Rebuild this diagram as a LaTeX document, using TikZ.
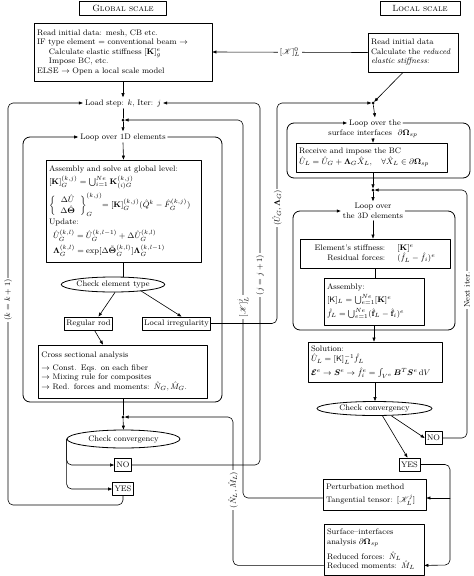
\documentclass[tikz,border=0pt]{standalone}
\usepackage{amsmath}
\usepackage{amssymb}
\usepackage{mathrsfs}
\usepackage{tikz}
\usetikzlibrary{arrows.meta, calc, positioning, shapes}

\tikzset{
  gbox/.style={draw, line width=0.8pt, font=\footnotesize, inner sep=3pt, align=left},
  tagbox/.style={draw, line width=0.8pt, font=\footnotesize, inner sep=2pt, minimum height=13pt},
  titlebox/.style={draw, line width=0.8pt, font=\small, minimum height=14pt, inner xsep=6pt},
  txt/.style={font=\footnotesize, inner sep=2pt, align=center},
  chk/.style={ellipse, draw, line width=0.8pt, font=\footnotesize, inner sep=0pt},
  jdot/.style={circle, fill, inner sep=0pt, minimum size=3pt},
  arr/.style={->, line width=0.6pt},
  wire/.style={-, line width=0.6pt},
  looparr/.style={->, line width=0.8pt, rounded corners=7pt},
  vlbl/.style={fill=white, font=\footnotesize, inner sep=1.5pt, rotate=90},
}

\begin{document}
\begin{tikzpicture}[x=1pt, y=-1pt, line cap=round, line join=round, >={Triangle[length=4pt,width=3pt]}]
    \useasboundingbox (0,0) rectangle (474,576);

    % titles
    \node[titlebox, minimum width=87pt] (gtitle) at (123,8) {\textsc{Global scale}};
    \node[titlebox, minimum width=80pt] (ltitle) at (420,8) {\textsc{Local scale}};

    % global scale
    \node[gbox, text width=172pt, minimum height=58pt] (ginit) at (123,52) {Read initial data: mesh, CB etc.\\
      IF type element = conventional beam $\rightarrow$\\
      \hspace*{12pt}Calculate elastic stiffness $[\mathbf{K}]^e_g$\\
      \hspace*{12pt}Impose BC, etc.\\
      ELSE $\rightarrow$ Open a local scale model};
    \node[txt] (load) at (123,103) {Load step: $k$, Iter: $j$};
    \node[jdot] (dot1) at (123,120) {};
    \node[txt] (loop1) at (123,137) {Loop over 1D elements};
    \node[gbox, text width=149pt, minimum height=102pt] (gasm) at (123.5,211) {Assembly and solve at global level:\\[2pt]
      $[\mathbf{K}]_G^{(k,j)}=\bigcup_{i=1}^{Ne}\mathbf{K}_{(i)G}^{(k,j)}$\\[3pt]
      $\left\{\begin{array}{c}\Delta\hat{U}\\ \Delta\hat{\mathbf{\Theta}}\end{array}\right\}_G^{(k,j)}\!\!=[\mathbf{K}]_G^{(k,j)}(\hat{Q}^k-\hat{F}_G^{(k,j)})$\\[1pt]
      Update:\\[3pt]
      \hspace*{4pt}$\hat{U}_G^{(k,l)}=\hat{U}_G^{(k,l-1)}+\Delta\hat{U}_G^{(k,l)}$\\[3pt]
      \hspace*{4pt}$\mathbf{\Lambda}_G^{(k,l)}=\exp[\Delta\tilde{\mathbf{\Theta}}_G^{(k,l)}]\mathbf{\Lambda}_G^{(k,l-1)}$};
    \node[chk, minimum width=100pt, minimum height=15pt] (gtype) at (113,284.5) {Check element type};
    \node[tagbox] (rod) at (88.5,323.5) {Regular rod};
    \node[tagbox] (irr) at (176.5,323.5) {Local irregularity};
    \node[gbox, text width=163pt, minimum height=53pt] (cross) at (123,371.5) {Cross sectional analysis\\[3pt]
      $\rightarrow$ Const. Eqs. on each fiber\\
      $\rightarrow$ Mixing rule for composites\\
      $\rightarrow$ Red. forces and moments: $\hat{N}_G,\hat{M}_G$.};
    \node[jdot] (dot3) at (123,417) {};
    \node[chk, minimum width=113pt, minimum height=18pt] (gconv) at (123.5,439) {Check convergency};
    \node[tagbox] (gno) at (123,465) {NO};
    \node[tagbox] (gyes) at (123,489) {YES};

    % local scale
    \node[gbox, text width=84pt, minimum height=39pt] (linit) at (413,52.5) {Read initial data\\
      Calculate the \textit{reduced}\\ \textit{elastic stiffness}:};
    \node[jdot] (dot2) at (373,103) {};
    \node[txt] (sloop) at (375,123) {Loop over the};
    \node[txt] (sname) at (373,133.5) {surface interfaces \ $\partial\mathbf{\Omega}_{sp}$};
    \node[gbox, text width=145pt, minimum height=29pt] (recv) at (371.5,157.5) {Receive and impose the BC\\[1pt]
      $\hat{U}_L=\hat{U}_G+\mathbf{\Lambda}_G\hat{X}_L,\quad\forall\hat{X}_L\in\partial\mathbf{\Omega}_{sp}$};
    \node[jdot] (dot4) at (373,190) {};
    \node[txt] (eloop) at (373,211) {Loop over\\ the 3D elements};
    \node[gbox, minimum width=150pt, minimum height=29pt, align=center] (estiff) at (375,253.5) {\begin{tabular}{@{}r@{\hspace{12pt}}l@{}}
      Element's stiffness: & $[\mathbf{K}]^e$\\ Residual forces: & $(\hat{f}_L-\hat{f}_i)^e$\end{tabular}};
    \node[gbox, text width=94pt, minimum height=47pt] (lasm) at (374,301.5) {Assembly:\\[3pt]
      $[\mathsf{K}]_L=\bigcup_{e=1}^{Ne}[\mathbf{K}]^e$\\[3pt]
      $\hat{f}_L=\bigcup_{e=1}^{Ne}(\hat{\mathbf{f}}_L-\hat{\mathbf{f}}_i)^e$};
    \node[gbox, text width=128pt, minimum height=40pt] (sol) at (375,362) {Solution:\\[1pt]
      $\hat{U}_L=[\mathsf{K}]_L^{-1}\hat{f}_L$\\[2pt]
      $\boldsymbol{\mathcal{E}}^e\rightarrow\boldsymbol{S}^e\rightarrow\hat{f}_i^e=\int_{V^e}\boldsymbol{B}^T\boldsymbol{S}^e\,\mathrm{d}V$};
    \node[chk, minimum width=115pt, minimum height=14pt] (lconv) at (374.5,408.5) {Check convergency};
    \node[tagbox] (lno) at (433.5,438) {NO};
    \node[tagbox] (lyes) at (409.5,464.5) {YES};
    \node[gbox, text width=97pt, minimum height=31pt] (pert) at (374.5,494.5) {Perturbation method\\[4pt]
      Tangential tensor: $[\mathscr{K}^j_L]$};
    \node[gbox, text width=94pt, minimum height=51pt] (surf) at (374,549.5) {Surface--interfaces\\
      analysis $\partial\mathbf{\Omega}_{sp}$\\[4pt]
      Reduced forces: $\hat{N}_L$\\ Reduced moments: $\hat{M}_L$};

    % loops
    \draw[looparr] (loop1.east) -- (222,137) -- (222,402) -- (23,402) -- (23,137) -- (loop1.west);
    \draw[looparr] (sloop.east) -- (470,123) -- (470,178) -- (287,178) -- (287,123) -- (sloop.west);
    \draw[looparr] (eloop.east) -- (455,211) -- (455,330) -- (293,330) -- (293,211) -- (eloop.west);

    % global flow
    \draw[arr] (ginit.south) -- (load.north);
    \draw[arr] (linit.west) -- (ginit.east) node[midway, fill=white, font=\footnotesize, inner sep=2pt] (kl0) {$[\mathscr{K}]^0_L$};
    \draw[wire] (load.south) -- (dot1);
    \draw[arr] (dot1) -- (loop1.north);
    \draw[arr] (loop1.south) -- (gasm.north);
    \draw[wire] (gasm.south) -- (gasm.south |- gtype.north);
    \draw[arr] ($(gtype.south)+(2,0)$) -- ($(rod.north)+(10,0)$);
    \draw[arr] ($(gtype.south)+(28,-1.5)$) -- ($(irr.north)+(5,0)$);
    \draw[arr] ($(rod.south)+(6,0)$) -- ($(cross.north)+(-20,0)$);
    \draw[wire] (cross.south) -- (dot3);
    \draw[arr] (dot3) -- (gconv.north);
    \draw[arr, rounded corners=5pt] (gconv.west) |- (gno.west);
    \draw[arr, rounded corners=5pt] (gconv.west) |- (gyes.west);

    % return lines
    \draw[arr, rounded corners=5pt] (gyes.south) |- (8,505) |- (load.west);
    \draw[arr, rounded corners=5pt] (gno.east) -| (260,103) -- (load.east);
    \draw[arr, rounded corners=5pt] ($(pert.west)+(0,3.5)$) -| (243,120) -- (dot1);
    \draw[arr, rounded corners=5pt] (irr.east) -| (277,103) -- (dot2);
    \draw[arr, rounded corners=5pt] ($(surf.south west)+(0,-10)$) -| (233,417) -- (dot3);

    % local flow
    \draw[arr] ($(linit.south)+(-10,0)$) -- (dot2);
    \draw[arr] (dot2) -- (sloop.north);
    \draw[arr] (sname.south) -- (sname.south |- recv.north);
    \draw[arr] (recv.south -| dot4) -- (dot4);
    \draw[arr] (dot4) -- (eloop.north);
    \draw[arr] (eloop.south) -- (eloop.south |- estiff.north);
    \draw[wire] (estiff.south) -- (estiff.south |- lasm.north);
    \draw[arr] (lasm.south) -- (lasm.south |- sol.north);
    \draw[arr] (sol.south) -- (sol.south |- lconv.north);
    \draw[arr] ($(lconv.south)+(17,0)$) -- (lno.west);
    \draw[arr] ($(lconv.south)+(8,0)$) -- ($(lyes.north)+(-2,0)$);
    \draw[arr, rounded corners=5pt] (lno.east) -| (467,190) -- (dot4);
    \draw[arr, rounded corners=5pt] (lyes.east) -| (450,565) -- ($(surf.south east)+(0,-10)$);
    \draw[arr] (450,498) -- ($(pert.east)+(0,3.5)$);

    % labels on the return lines
    \node[vlbl] (kinc) at (8,300) {$(k=k+1)$};
    \node[vlbl] (jinc) at (260,275) {$(j=j+1)$};
    \node[vlbl] (klj) at (243,307) {$[\mathscr{K}]^j_L$};
    \node[vlbl] (ugl) at (277,208) {$(\hat{U}_G,\mathbf{\Lambda}_G)$};
    \node[vlbl] (nml) at (233,490) {$(\hat{N}_L,\hat{M}_L)$};
    \node[vlbl] (nxt) at (467,290) {Next iter.};
\end{tikzpicture}
\end{document}
